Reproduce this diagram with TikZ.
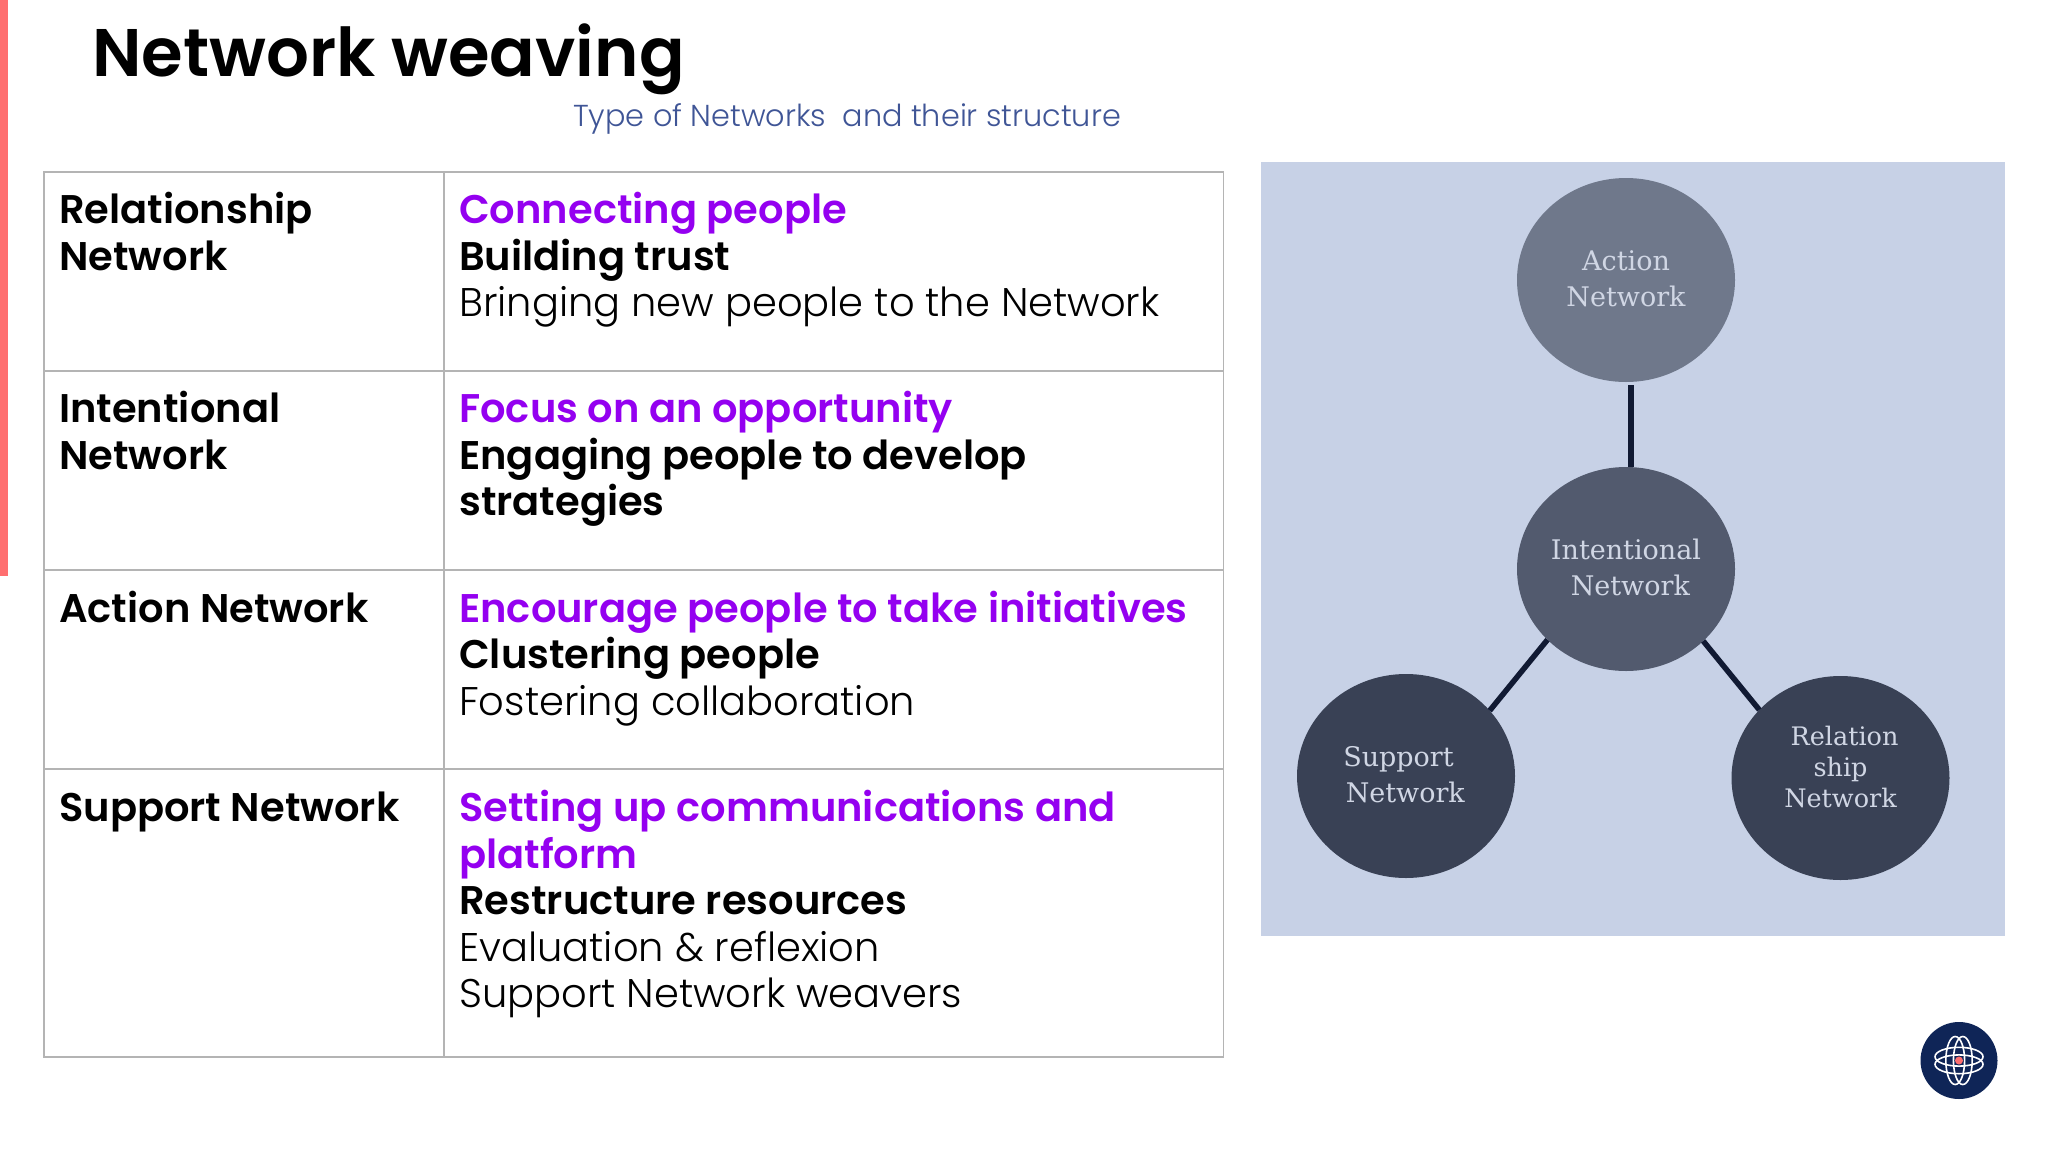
\documentclass[tikz,border=0pt]{standalone}
\usepackage{fontspec}
\usetikzlibrary{shapes.geometric}
\setmainfont{Poppins}
\newfontfamily\lightf{Poppins Light}
\newfontfamily\semif{Poppins SemiBold}
\newfontfamily\slabf{DejaVu Serif}
\definecolor{barred}{HTML}{FF6F70}
\definecolor{subblue}{HTML}{3F5596}
\definecolor{gridgray}{HTML}{B4B4B4}
\definecolor{purp}{HTML}{9400F0}
\definecolor{panelblue}{HTML}{C7D1E6}
\definecolor{actionc}{HTML}{6F788B}
\definecolor{intentc}{HTML}{525A6E}
\definecolor{darkc}{HTML}{394155}
\definecolor{linkc}{HTML}{111A33}
\definecolor{nodetext}{HTML}{D0D6E4}
\definecolor{logoc}{HTML}{0F2557}
\newcommand{\pu}[1]{{\semif\color{purp}#1}}
\newcommand{\bk}[1]{{\semif\color{black}#1}}
\newcommand{\lt}[1]{{\lightf\color{black}#1}}
\newcommand{\liftby}[1]{\rule[-#1]{0pt}{1pt}}
\tikzset{
 cellbox/.style={draw=gridgray,line width=1.4pt,anchor=north west,inner sep=0pt,outer sep=0pt},
 celltext/.style={anchor=north west,inner sep=0pt,align=left,font=\fontsize{40}{46.6}\selectfont},
 netnode/.style={ellipse,minimum width=218pt,minimum height=204pt,inner sep=0pt,outer sep=0pt,text=nodetext,align=center,font=\slabf\fontsize{27}{36}\selectfont},
 netlink/.style={draw=linkc,line width=5.5pt},
}
\begin{document}
\begin{tikzpicture}[x=1pt,y=-1pt]
\useasboundingbox (0,0) rectangle (2048,1152);
\fill[barred] (0,0) rectangle (8,576);
\node[anchor=base west,inner sep=0pt,font=\semif\fontsize{67.3}{70}\selectfont] (title) at (92,76) {Network weaving};
\node[anchor=base west,inner sep=0pt,text=subblue,font=\lightf\fontsize{30.3}{36}\selectfont] (subtitle) at (573,126) {Type of Networks\ \ and their structure};
% table
\node[cellbox,minimum width=400pt,minimum height=199pt] (c1) at (44,172) {};
\node[cellbox,minimum width=779pt,minimum height=199pt] (d1) at (444.5,172) {};
\node[cellbox,minimum width=400pt,minimum height=199pt] (c2) at (44,371) {};
\node[cellbox,minimum width=779pt,minimum height=199pt] (d2) at (444.5,371) {};
\node[cellbox,minimum width=400pt,minimum height=199pt] (c3) at (44,570) {};
\node[cellbox,minimum width=779pt,minimum height=199pt] (d3) at (444.5,570) {};
\node[cellbox,minimum width=400pt,minimum height=288pt] (c4) at (44,769) {};
\node[cellbox,minimum width=779pt,minimum height=288pt] (d4) at (444.5,769) {};
\node[celltext] (t1) at (59,192) {\bk{Relationship}\\\bk{Network}};
\node[celltext] (t2) at (59,391) {\bk{Intentional}\\\bk{Network}};
\node[celltext] (t3) at (59,590.5) {\bk{Action Network}};
\node[celltext] (t4) at (59,791.5) {\bk{Support Network}};
\node[celltext] (u1) at (459,192) {\pu{Connecting people}\\\bk{Building trust}\\\lt{Bringing new people to the Network}};
\node[celltext] (u2) at (459,391) {\pu{Focus on an opportunity}\\\bk{Engaging people to develop}\\\bk{strategies}};
\node[celltext] (u3) at (459,590.5) {\pu{Encourage people to take initiatives}\\\bk{Clustering people}\\\lt{Fostering collaboration}};
\node[celltext] (u4) at (459,790) {\pu{Setting up communications and}\\\pu{platform}\\\bk{Restructure resources}\\\lt{Evaluation \& reflexion}\\\lt{Support Network weavers}};
% panel
\fill[panelblue] (1261,162) rectangle (2005,936);
\node[netnode,fill=actionc] (action) at (1626,280) {Action\\Network\liftby{3pt}};
\node[netnode,fill=intentc] (intent) at (1626,569) {Intentional\\\ Network\liftby{3pt}};
\node[netnode,fill=darkc] (support) at (1406,776) {Support\hspace*{15pt}\\\ Network\hspace*{10pt}\liftby{4pt}};
\node[netnode,fill=darkc,font=\slabf\fontsize{25.5}{31}\selectfont] (relation) at (1840.5,778) {\ Relation\\ship\\Network\liftby{23pt}};
\draw[netlink] ([xshift=5pt,yshift=-3pt]action.south) -- ([xshift=5pt]intent.north);
\draw[netlink] (intent.222) -- (support.38);
\draw[netlink] (intent.-43) -- (relation.140);
% logo
\node[circle,fill=logoc,minimum size=77pt,inner sep=0pt] (logo) at (1959,1060.5) {};
\begin{scope}[shift={(logo.center)},draw=white,line width=1.6pt]
 \draw (-3.8,0) ellipse (9.4 and 24);
 \draw (3.8,0) ellipse (9.4 and 24);
 \draw (0,-3.8) ellipse (24 and 9.4);
 \draw (0,3.8) ellipse (24 and 9.4);
\end{scope}
\node[circle,fill=barred,minimum size=8pt,inner sep=0pt] (dot) at (logo.center) {};
\end{tikzpicture}
\end{document}
